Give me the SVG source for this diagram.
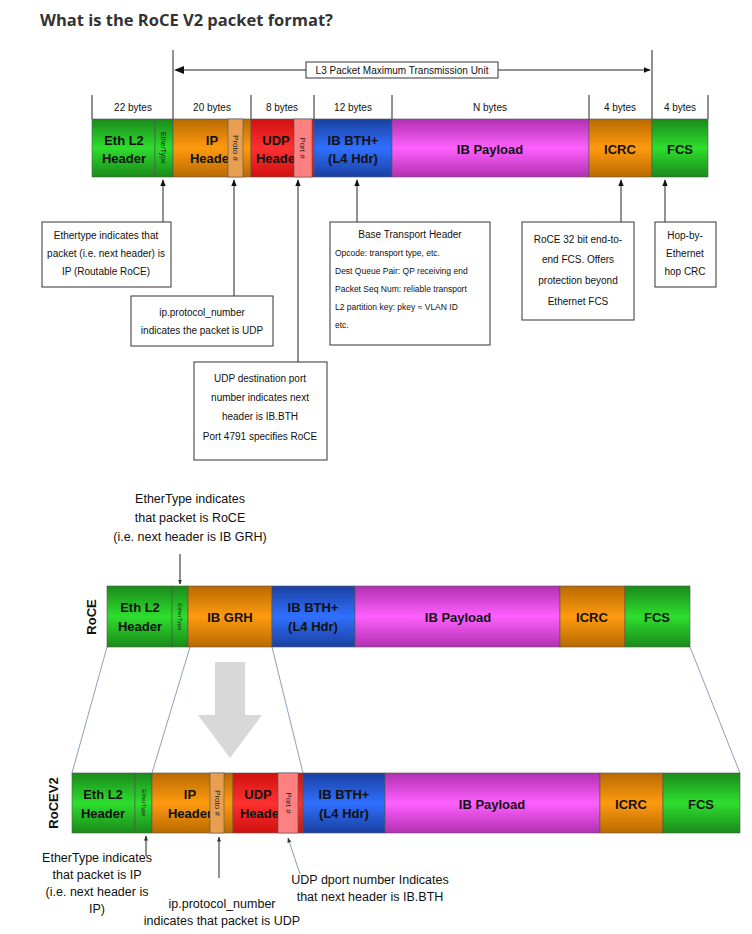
<svg xmlns="http://www.w3.org/2000/svg" width="752" height="934" viewBox="0 0 752 934">
<style>
text{font-family:"Liberation Sans",Arial,sans-serif;fill:#111}
.t{font-size:10px}
.s{font-size:8.5px}
.b{font-size:13px;font-weight:bold;text-anchor:middle}
.bl{font-size:12.5px;text-anchor:middle}
.box{fill:#fff;stroke:#333;stroke-width:1}
.ln{stroke:#222;stroke-width:1;fill:none}
.tl{stroke:#8aa0b8;stroke-width:1;fill:none}
.seg{stroke:#555;stroke-width:0.6}
.v{font-size:7px;fill:#222}
</style>
<defs>
<marker id="ah" viewBox="0 0 10 10" refX="9" refY="5" markerWidth="7" markerHeight="7" orient="auto"><path d="M0,1L10,5L0,9z" fill="#111"/></marker>
<marker id="sa" viewBox="0 0 10 10" refX="9" refY="5" markerWidth="5" markerHeight="5" orient="auto"><path d="M0,1L10,5L0,9z" fill="#333"/></marker>
<linearGradient id="gG" x1="0" y1="0" x2="0" y2="1"><stop offset="0" stop-color="#1a8a1a"/><stop offset=".5" stop-color="#2ede2e"/><stop offset="1" stop-color="#1a8a1a"/></linearGradient>
<linearGradient id="gO" x1="0" y1="0" x2="0" y2="1"><stop offset="0" stop-color="#b86a00"/><stop offset=".5" stop-color="#ff9a10"/><stop offset="1" stop-color="#b86a00"/></linearGradient>
<linearGradient id="gR" x1="0" y1="0" x2="0" y2="1"><stop offset="0" stop-color="#d01010"/><stop offset=".5" stop-color="#ff3030"/><stop offset="1" stop-color="#d01010"/></linearGradient>
<linearGradient id="gB" x1="0" y1="0" x2="0" y2="1"><stop offset="0" stop-color="#1a40a0"/><stop offset=".5" stop-color="#3070ff"/><stop offset="1" stop-color="#1a40a0"/></linearGradient>
<linearGradient id="gM" x1="0" y1="0" x2="0" y2="1"><stop offset="0" stop-color="#b030b0"/><stop offset=".5" stop-color="#ff60ff"/><stop offset="1" stop-color="#b030b0"/></linearGradient>
</defs>

<text x="40" y="26" style="font-family:'Open Sans','Liberation Sans',sans-serif;font-size:16.5px;font-weight:bold;fill:#333">What is the RoCE V2 packet format?</text>

<g id="topbar">
<path class="ln" d="M92,95V119M173,50V119M251,95V119M314,95V119M392,95V119M589,95V119M652,50V119M708,95V119"/>
<text class="t" text-anchor="middle" x="133" y="111">22 bytes</text>
<text class="t" text-anchor="middle" x="212" y="111">20 bytes</text>
<text class="t" text-anchor="middle" x="282" y="111">8 bytes</text>
<text class="t" text-anchor="middle" x="353" y="111">12 bytes</text>
<text class="t" text-anchor="middle" x="490" y="111">N bytes</text>
<text class="t" text-anchor="middle" x="620" y="111">4 bytes</text>
<text class="t" text-anchor="middle" x="680" y="111">4 bytes</text>
<rect class="seg" x="92" y="119" width="63" height="58" fill="url(#gG)"/>
<rect class="seg" x="155" y="119" width="18" height="58" fill="url(#gG)"/>
<rect class="seg" x="173" y="119" width="78" height="58" fill="url(#gO)"/>
<text class="b" x="212" y="145">IP</text><text class="b" x="212" y="163">Header</text>
<rect class="seg" x="228" y="119" width="15" height="58" fill="#e8a050"/>
<rect class="seg" x="251" y="119" width="63" height="58" fill="url(#gR)"/>
<text class="b" x="276" y="145">UDP</text><text class="b" x="278" y="163">Header</text>
<rect class="seg" x="294" y="119" width="18" height="58" fill="#ff8080"/>
<rect class="seg" x="314" y="119" width="78" height="58" fill="url(#gB)"/>
<rect class="seg" x="392" y="119" width="197" height="58" fill="url(#gM)"/>
<rect class="seg" x="589" y="119" width="63" height="58" fill="url(#gO)"/>
<rect class="seg" x="652" y="119" width="56" height="58" fill="url(#gG)"/>
<text class="b" x="124" y="145">Eth L2</text><text class="b" x="124" y="163">Header</text>
<text class="v" transform="translate(161,148) rotate(90)" text-anchor="middle">EtherType</text>
<text class="v" style="font-size:8px" transform="translate(233,148) rotate(90)" text-anchor="middle">Proto #</text>
<text class="v" style="font-size:8px" transform="translate(300,148) rotate(90)" text-anchor="middle">Port #</text>
<text class="b" x="353" y="145" style="fill:#112">IB BTH+</text><text class="b" x="353" y="163" style="fill:#112">(L4 Hdr)</text>
<text class="b" x="490" y="154">IB Payload</text>
<text class="b" x="620" y="154">ICRC</text>
<text class="b" x="680" y="154">FCS</text>
</g>

<g id="mtu">
<line class="ln" x1="176" y1="70" x2="650" y2="70" marker-end="url(#ah)"/>
<path d="M174,70l10,-4v8z" fill="#111"/>
<rect class="box" x="306" y="62" width="192" height="16"/>
<text class="t" x="402" y="74" text-anchor="middle">L3 Packet Maximum Transmission Unit</text>
</g>

<g id="connectors">
<line class="ln" x1="163" y1="222" x2="163" y2="180" marker-end="url(#ah)"/>
<line class="ln" x1="234" y1="296" x2="234" y2="180" marker-end="url(#ah)"/>
<line class="ln" x1="298" y1="362" x2="298" y2="180" marker-end="url(#ah)"/>
<line class="ln" x1="357" y1="222" x2="357" y2="180" marker-end="url(#ah)"/>
<line class="ln" x1="621" y1="222" x2="621" y2="180" marker-end="url(#ah)"/>
<line class="ln" x1="665" y1="222" x2="665" y2="180" marker-end="url(#ah)"/>
<line class="ln" x1="180" y1="554" x2="180" y2="584" marker-end="url(#sa)"/>
<line class="ln" x1="146" y1="856" x2="146" y2="836" stroke="#555" marker-end="url(#sa)"/>
<line class="ln" x1="219" y1="878" x2="219" y2="837" marker-end="url(#sa)"/>
<line class="tl" x1="300" y1="874" x2="288" y2="838" marker-end="url(#sa)"/>
<path class="tl" d="M107,647L72,773M190,647L152,773M272,647L303,773M690,647L740,773"/>
</g>

<g id="c1"><rect class="box" x="42" y="222" width="129" height="65"/>
<text class="t" text-anchor="middle" x="106" y="239">Ethertype indicates that</text>
<text class="t" text-anchor="middle" x="106" y="257">packet (i.e. next header) is</text>
<text class="t" text-anchor="middle" x="106" y="275">IP (Routable RoCE)</text></g>
<g id="c2"><rect class="box" x="131" y="296" width="142" height="50"/>
<text class="t" text-anchor="middle" x="202" y="316">ip.protocol_number</text>
<text class="t" text-anchor="middle" x="202" y="334">indicates the packet is UDP</text></g>
<g id="c3"><rect class="box" x="194" y="362" width="133" height="98"/>
<text class="t" text-anchor="middle" x="260" y="382">UDP destination port</text>
<text class="t" text-anchor="middle" x="260" y="401">number indicates next</text>
<text class="t" text-anchor="middle" x="260" y="420">header is IB.BTH</text>
<text class="t" text-anchor="middle" x="260" y="440">Port 4791 specifies RoCE</text></g>
<g id="c4"><rect class="box" x="330" y="222" width="160" height="123"/>
<text class="t" text-anchor="middle" x="410" y="238">Base Transport Header</text>
<text class="s" x="335" y="256">Opcode: transport type, etc.</text>
<text class="s" x="335" y="274">Dest Queue Pair: QP receiving end</text>
<text class="s" x="335" y="292">Packet Seq Num: reliable transport</text>
<text class="s" x="335" y="310">L2 partition key: pkey ≈ VLAN ID</text>
<text class="s" x="335" y="328">etc.</text></g>
<g id="c5"><rect class="box" x="522" y="222" width="112" height="98"/>
<text class="t" text-anchor="middle" x="578" y="243">RoCE 32 bit end-to-</text>
<text class="t" text-anchor="middle" x="578" y="263">end FCS. Offers</text>
<text class="t" text-anchor="middle" x="578" y="284">protection beyond</text>
<text class="t" text-anchor="middle" x="578" y="305">Ethernet FCS</text></g>
<g id="c6"><rect class="box" x="655" y="222" width="61" height="65"/>
<text class="t" text-anchor="middle" x="685" y="239">Hop-by-</text>
<text class="t" text-anchor="middle" x="685" y="257">Ethernet</text>
<text class="t" text-anchor="middle" x="685" y="275">hop CRC</text></g>

<g id="midnote">
<text class="bl" x="190" y="503">EtherType indicates</text>
<text class="bl" x="190" y="522">that packet is RoCE</text>
<text class="bl" x="190" y="541">(i.e. next header is IB GRH)</text>
</g>

<g id="roce">
<text transform="translate(96,617) rotate(-90)" text-anchor="middle" style="font-size:13px;font-weight:bold">RoCE</text>
<rect class="seg" x="107" y="586" width="65" height="61" fill="url(#gG)"/>
<rect class="seg" x="172" y="586" width="16" height="61" fill="url(#gG)"/>
<rect class="seg" x="188" y="586" width="84" height="61" fill="url(#gO)"/>
<rect class="seg" x="272" y="586" width="83" height="61" fill="url(#gB)"/>
<rect class="seg" x="355" y="586" width="205" height="61" fill="url(#gM)"/>
<rect class="seg" x="560" y="586" width="65" height="61" fill="url(#gO)"/>
<rect class="seg" x="625" y="586" width="65" height="61" fill="url(#gG)"/>
<text class="b" x="140" y="612">Eth L2</text><text class="b" x="140" y="631">Header</text>
<text class="v" style="font-size:6px" transform="translate(178,617) rotate(90)" text-anchor="middle">EtherType</text>
<text class="b" x="230" y="622">IB GRH</text>
<text class="b" x="313" y="612">IB BTH+</text><text class="b" x="313" y="631">(L4 Hdr)</text>
<text class="b" x="458" y="622">IB Payload</text>
<text class="b" x="592" y="622">ICRC</text>
<text class="b" x="657" y="622">FCS</text>
</g>

<path id="bigarrow" d="M215,662H245V715H262L230,758L198,715H215Z" fill="#d8d8d8"/>

<g id="rocev2">
<text transform="translate(58,803) rotate(-90)" text-anchor="middle" style="font-size:13px;font-weight:bold">RoCEV2</text>
<rect class="seg" x="72" y="773" width="63" height="60" fill="url(#gG)"/>
<rect class="seg" x="135" y="773" width="17" height="60" fill="url(#gG)"/>
<rect class="seg" x="152" y="773" width="81" height="60" fill="url(#gO)"/>
<text class="b" x="190" y="799">IP</text><text class="b" x="190" y="818">Header</text>
<rect class="seg" x="210" y="773" width="14" height="60" fill="#e8a050"/>
<rect class="seg" x="233" y="773" width="70" height="60" fill="url(#gR)"/>
<text class="b" x="258" y="799">UDP</text><text class="b" x="262" y="818">Header</text>
<rect class="seg" x="278" y="773" width="20" height="60" fill="#ff8080"/>
<rect class="seg" x="303" y="773" width="82" height="60" fill="url(#gB)"/>
<rect class="seg" x="385" y="773" width="215" height="60" fill="url(#gM)"/>
<rect class="seg" x="600" y="773" width="63" height="60" fill="url(#gO)"/>
<rect class="seg" x="663" y="773" width="77" height="60" fill="url(#gG)"/>
<text class="b" x="103" y="799">Eth L2</text><text class="b" x="103" y="818">Header</text>
<text class="v" style="font-size:6px" transform="translate(142,803) rotate(90)" text-anchor="middle">EtherType</text>
<text class="v" style="font-size:8px" transform="translate(215,803) rotate(90)" text-anchor="middle">Proto #</text>
<text class="v" style="font-size:8px" transform="translate(286,803) rotate(90)" text-anchor="middle">Port #</text>
<text class="b" x="344" y="799">IB BTH+</text><text class="b" x="344" y="818">(L4 Hdr)</text>
<text class="b" x="492" y="809">IB Payload</text>
<text class="b" x="631" y="809">ICRC</text>
<text class="b" x="701" y="809">FCS</text>
</g>

<g id="bottomnotes">
<text class="bl" x="97" y="862">EtherType indicates</text>
<text class="bl" x="97" y="879">that packet is IP</text>
<text class="bl" x="97" y="896">(i.e. next header is</text>
<text class="bl" x="97" y="913">IP)</text>
<text class="bl" x="222" y="908">ip.protocol_number</text>
<text class="bl" x="222" y="925">indicates that packet is UDP</text>
<text class="bl" x="370" y="884">UDP dport number Indicates</text>
<text class="bl" x="370" y="901">that next header is IB.BTH</text>
</g>
</svg>
